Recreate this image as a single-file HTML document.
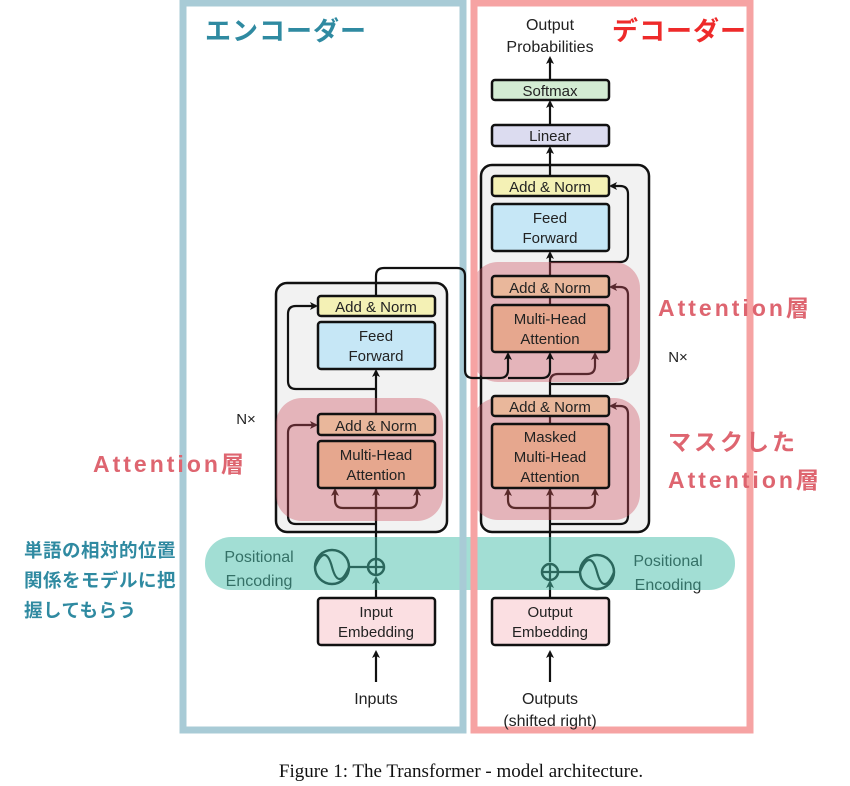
<!DOCTYPE html>
<html><head><meta charset="utf-8"><style>
html,body{margin:0;padding:0;background:#fff;width:850px;height:786px;overflow:hidden}
svg{display:block}
.t{font-size:15px;fill:#222;text-anchor:middle}
.b{stroke:#111;stroke-width:2.5}
.ln{stroke:#111;stroke-width:2.2;fill:none}
.rl{stroke:#5a2a2a;stroke-width:2.2;fill:none}
</style></head><body>
<svg width="850" height="786" viewBox="0 0 850 786" xmlns="http://www.w3.org/2000/svg" font-family="Liberation Sans, Noto Sans CJK JP, sans-serif">
<defs>
<marker id="a" markerWidth="8" markerHeight="8" refX="6" refY="4" orient="auto" markerUnits="userSpaceOnUse"><path d="M0,0 L8,4 L0,8 L2,4z" fill="#111"/></marker>
<marker id="ar" markerWidth="8" markerHeight="8" refX="6" refY="4" orient="auto" markerUnits="userSpaceOnUse"><path d="M0,0 L8,4 L0,8 L2,4z" fill="#5a2a2a"/></marker>
</defs>
<rect x="276" y="283" width="171" height="249" rx="11" fill="#f2f2f2" class="b"/>
<rect x="481" y="165" width="168" height="367" rx="11" fill="#f2f2f2" class="b"/>
<!-- encoder lines -->
<path class="ln" d="M376,598 V578" marker-end="url(#a)"/>
<path class="ln" d="M376,682 V652" marker-end="url(#a)"/>
<path class="ln" d="M376,558 V441"/>
<path class="ln" d="M376,524 H296 Q288,524 288,516 V433 Q288,425 296,425 H316" marker-end="url(#a)"/>
<path class="ln" d="M376,414 V371" marker-end="url(#a)"/>
<path class="ln" d="M376,389 H296 Q288,389 288,381 V314 Q288,306 296,306 H316" marker-end="url(#a)"/>
<!-- decoder lines -->
<path class="ln" d="M550,682 V652" marker-end="url(#a)"/>
<path class="ln" d="M550,598 V582" marker-end="url(#a)"/>
<path class="ln" d="M550,562 V416"/>
<path class="ln" d="M550,524 H620 Q628,524 628,516 V414 Q628,406 620,406 H611" marker-end="url(#a)"/>
<path class="ln" d="M550,396 V382 Q550,374 558,374 H587 Q595,374 595,366 V354" marker-end="url(#a)"/>
<path class="ln" d="M550,384 H620 Q628,384 628,376 V295 Q628,287 620,287 H611" marker-end="url(#a)"/>
<path class="ln" d="M550,305 V297"/>
<path class="ln" d="M550,276 V253" marker-end="url(#a)"/>
<path class="ln" d="M550,262 H620 Q628,262 628,254 V194 Q628,186 620,186 H611" marker-end="url(#a)"/>
<path class="ln" d="M550,176 V148" marker-end="url(#a)"/>
<path class="ln" d="M550,125 V102" marker-end="url(#a)"/>
<path class="ln" d="M550,80 V58" marker-end="url(#a)"/>
<!-- attention overlays -->
<rect x="276" y="398" width="167" height="123" rx="26" fill="rgb(205,80,95)" fill-opacity="0.38"/>
<rect x="472" y="262" width="168" height="120" rx="26" fill="rgb(205,80,95)" fill-opacity="0.38"/>
<rect x="472" y="398" width="168" height="122" rx="26" fill="rgb(205,80,95)" fill-opacity="0.38"/>
<path class="rl" d="M376,508 H343 Q335,508 335,500 V490" marker-end="url(#ar)"/>
<path class="rl" d="M376,508 H409 Q417,508 417,500 V490" marker-end="url(#ar)"/>
<path class="rl" d="M376,521 V490" marker-end="url(#ar)"/>
<path class="rl" d="M550,520 V490" marker-end="url(#ar)"/>
<path class="rl" d="M550,508 H516 Q508,508 508,500 V490" marker-end="url(#ar)"/>
<path class="rl" d="M550,508 H587 Q595,508 595,500 V490" marker-end="url(#ar)"/>
<!-- boxes encoder -->
<rect x="318" y="296" width="117" height="20" rx="3" fill="#f4f1b5" class="b"/>
<text x="376" y="312" class="t">Add &amp; Norm</text>
<rect x="318" y="322" width="117" height="47" rx="3" fill="#c6e7f6" class="b"/>
<text x="376" y="341" class="t">Feed</text><text x="376" y="361" class="t">Forward</text>
<rect x="318" y="414" width="117" height="21" rx="3" fill="#e9b79b" class="b"/>
<text x="376" y="431" class="t">Add &amp; Norm</text>
<rect x="318" y="441" width="117" height="47" rx="3" fill="#e6a78e" class="b"/>
<text x="376" y="460" class="t">Multi-Head</text><text x="376" y="480" class="t">Attention</text>
<rect x="318" y="598" width="117" height="47" rx="3" fill="#fbdfe2" class="b"/>
<text x="376" y="617" class="t">Input</text><text x="376" y="637" class="t">Embedding</text>
<!-- boxes decoder -->
<rect x="492" y="80" width="117" height="20" rx="3" fill="#d3ecd3" class="b"/>
<text x="550" y="96" class="t">Softmax</text>
<rect x="492" y="125" width="117" height="21" rx="3" fill="#dcdcf0" class="b"/>
<text x="550" y="141" class="t">Linear</text>
<rect x="492" y="176" width="117" height="20" rx="3" fill="#f4f1b5" class="b"/>
<text x="550" y="192" class="t">Add &amp; Norm</text>
<rect x="492" y="204" width="117" height="47" rx="3" fill="#c6e7f6" class="b"/>
<text x="550" y="223" class="t">Feed</text><text x="550" y="243" class="t">Forward</text>
<rect x="492" y="276" width="117" height="21" rx="3" fill="#e9b79b" class="b"/>
<text x="550" y="293" class="t">Add &amp; Norm</text>
<rect x="492" y="305" width="117" height="47" rx="3" fill="#e6a78e" class="b"/>
<text x="550" y="324" class="t">Multi-Head</text><text x="550" y="344" class="t">Attention</text>
<rect x="492" y="396" width="117" height="20" rx="3" fill="#e9b79b" class="b"/>
<text x="550" y="412" class="t">Add &amp; Norm</text>
<rect x="492" y="424" width="117" height="64" rx="3" fill="#e6a78e" class="b"/>
<text x="550" y="442" class="t">Masked</text><text x="550" y="462" class="t">Multi-Head</text><text x="550" y="482" class="t">Attention</text>
<rect x="492" y="598" width="117" height="47" rx="3" fill="#fbdfe2" class="b"/>
<text x="550" y="617" class="t">Output</text><text x="550" y="637" class="t">Embedding</text>
<!-- positional encoding -->
<circle cx="376" cy="567" r="8" fill="none" class="b" stroke-width="2"/>
<path d="M368,567 H384 M376,559 V575" class="ln" stroke-width="1.8"/>
<circle cx="332" cy="567" r="17" fill="none" class="b"/>
<path d="M315,567 C322,550 328,552 332,567 C336,582 342,584 349,567" class="ln" stroke-width="1.8"/>
<path class="ln" d="M349,567 H368"/>
<circle cx="550" cy="572" r="8" fill="none" class="b" stroke-width="2"/>
<path d="M542,572 H558 M550,564 V580" class="ln" stroke-width="1.8"/>
<circle cx="597" cy="572" r="17" fill="none" class="b"/>
<path d="M580,572 C587,555 593,557 597,572 C601,587 607,589 614,572" class="ln" stroke-width="1.8"/>
<path class="ln" d="M558,572 H580"/>
<text x="259" y="562" class="t" style="font-size:16px">Positional</text>
<text x="259" y="586" class="t" style="font-size:16px">Encoding</text>
<text x="668" y="566" class="t" style="font-size:16px">Positional</text>
<text x="668" y="590" class="t" style="font-size:16px">Encoding</text>
<rect x="205" y="537" width="530" height="53" rx="26" fill="rgb(70,190,170)" fill-opacity="0.5"/>
<!-- frames -->
<rect x="183" y="3" width="280" height="727" fill="none" stroke="#a8cbd6" stroke-width="7"/>
<rect x="474" y="3" width="276" height="727" fill="none" stroke="#f6a3a3" stroke-width="7"/>
<!-- encoder->decoder line (over frames) -->
<path class="ln" d="M376,296 V276 Q376,268 384,268 H457 Q465,268 465,276 V370 Q465,378 473,378 H500 Q508,378 508,370 V354" marker-end="url(#a)"/>
<path class="ln" d="M508,378 H542 Q550,378 550,370 V354" marker-end="url(#a)"/>
<!-- text -->
<text x="550" y="30" class="t" style="font-size:16px">Output</text>
<text x="550" y="52" class="t" style="font-size:16px">Probabilities</text>
<text x="376" y="704" class="t" style="font-size:16px">Inputs</text>
<text x="550" y="704" class="t" style="font-size:16px">Outputs</text>
<text x="550" y="726" class="t" style="font-size:16px">(shifted right)</text>
<text x="246" y="424" class="t">N×</text>
<text x="678" y="362" class="t">N×</text>
<g font-weight="bold">
<text x="205" y="40" style="font-size:26px;fill:#2f8aa1;letter-spacing:1px">エンコーダー</text>
<text x="612" y="40" style="font-size:26px;fill:#ee2a2a;letter-spacing:1px">デコーダー</text>
<text x="93" y="472" style="font-size:23px;fill:#de6570;letter-spacing:3px">Attention層</text>
<text x="658" y="316" style="font-size:23px;fill:#de6570;letter-spacing:3px">Attention層</text>
<text x="668" y="450" style="font-size:23px;fill:#de6570;letter-spacing:3px">マスクした</text>
<text x="668" y="488" style="font-size:23px;fill:#de6570;letter-spacing:3px">Attention層</text>
<text x="24" y="557" style="font-size:18.5px;fill:#2f8aa1;letter-spacing:0.5px">単語の相対的位置</text>
<text x="24" y="587" style="font-size:18.5px;fill:#2f8aa1;letter-spacing:0.5px">関係をモデルに把</text>
<text x="24" y="617" style="font-size:18.5px;fill:#2f8aa1;letter-spacing:0.5px">握してもらう</text>
</g>
<text x="461" y="777" font-family="Liberation Serif, serif" style="font-size:19px;fill:#111;text-anchor:middle">Figure 1: The Transformer - model architecture.</text>
</svg>
</body></html>
